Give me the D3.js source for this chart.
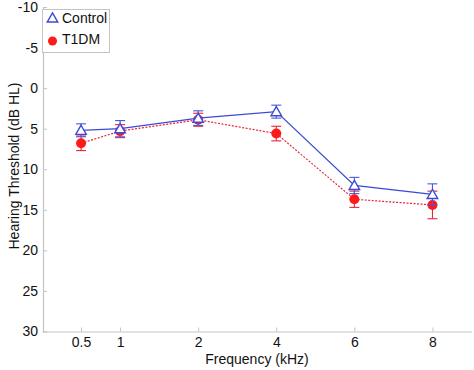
<!DOCTYPE html>
<html>
<head>
<meta charset="utf-8">
<script src="https://cdn.jsdelivr.net/npm/d3@7"></script>
<style>
  body { margin: 0; background: #fff; }
  text { font-family: "Liberation Sans", Arial, sans-serif; }
</style>
</head>
<body>
<div class="chart"></div>
<script>
// frequencies shown on the x axis and their slot positions
var freqLabels = ["0.5", "1", "2", "4", "6", "8"];
var freqPos = [0.5, 1, 2, 3, 4, 5];

// mean hearing thresholds (dB HL) and error bar half-widths
var controlMean = [5.2, 5.0, 3.7, 2.9, 12.0, 13.1];
var controlErr = [0.8, 1.0, 0.9, 0.8, 1.0, 1.3];
var t1dmMean = [6.8, 5.3, 3.9, 5.6, 13.7, 14.4];
var t1dmErr = [0.9, 0.8, 0.8, 0.9, 1.0, 1.7];

var yTicks = [-10, -5, 0, 5, 10, 15, 20, 25, 30];

var svgWidth = 474, svgHeight = 370;

var svg = d3.select(".chart")
  .append("svg")
  .attr("width", svgWidth)
  .attr("height", svgHeight);

var xScale = d3.scaleLinear()
  .domain([0, 5.5])
  .range([42, 471.5]);

var yScale = d3.scaleLinear()
  .domain([-10, 30])
  .range([7, 331.5]);

var axisColor = "#c4c4c4";

// axes
var xAxis = d3.axisBottom(xScale)
  .tickValues(freqPos)
  .tickFormat((d, i) => freqLabels[i])
  .tickSizeInner(-4)
  .tickSizeOuter(0)
  .tickPadding(6);

var yAxis = d3.axisLeft(yScale)
  .tickValues(yTicks)
  .tickFormat(d => String(d))
  .tickSizeInner(-4)
  .tickSizeOuter(0)
  .tickPadding(5);

var gx = svg.append("g")
  .attr("transform", `translate(0, ${yScale(30)})`)
  .call(xAxis);

var gy = svg.append("g")
  .attr("transform", `translate(${xScale(0) + 1}, 0)`)
  .call(yAxis);

[gx, gy].forEach(function(g) {
  g.select(".domain").attr("stroke", axisColor).attr("stroke-width", 1.2);
  g.selectAll(".tick line").attr("stroke", axisColor);
  g.selectAll(".tick text")
    .attr("fill", "#111")
    .style("font-size", "14px");
});

// axis labels
svg.append("text")
  .attr("x", 257)
  .attr("y", 364)
  .attr("text-anchor", "middle")
  .style("font-size", "14px")
  .attr("fill", "#111")
  .text("Frequency (kHz)");

svg.append("text")
  .attr("transform", "rotate(-90)")
  .attr("x", -166)
  .attr("y", 19)
  .attr("text-anchor", "middle")
  .style("font-size", "14px")
  .attr("fill", "#111")
  .text("Hearing Threshold (dB HL)");

var blue = "#3b4ad6";
var red = "#ff1a1a";
var redLine = "#e8243c";

var series = [
  { name: "Control", mean: controlMean, err: controlErr, color: blue, errColor: "#4a5ad8", dash: null, width: 1.3 },
  { name: "T1DM", mean: t1dmMean, err: t1dmErr, color: red, errColor: redLine, dash: "2,1.5", width: 1.2 }
];

var line = d3.line()
  .x((d, i) => xScale(freqPos[i]))
  .y(d => yScale(d));

var triSize = 48;

// draw T1DM first so control sits on top, like the reference
series.slice().reverse().forEach(function(s) {
  var g = svg.append("g");
  g.append("path")
    .datum(s.mean)
    .attr("d", line)
    .attr("fill", "none")
    .attr("stroke", s.name === "T1DM" ? redLine : s.color)
    .attr("stroke-width", s.width)
    .attr("stroke-dasharray", s.dash);

  var eb = g.selectAll(".eb")
    .data(s.mean)
    .enter()
    .append("g");
  eb.append("line")
    .attr("x1", (d, i) => xScale(freqPos[i]))
    .attr("x2", (d, i) => xScale(freqPos[i]))
    .attr("y1", (d, i) => yScale(d - s.err[i]))
    .attr("y2", (d, i) => yScale(d + s.err[i]))
    .attr("stroke", s.errColor)
    .attr("stroke-width", 1.1);
  [-1, 1].forEach(function(sign) {
    eb.append("line")
      .attr("x1", (d, i) => xScale(freqPos[i]) - 5)
      .attr("x2", (d, i) => xScale(freqPos[i]) + 5)
      .attr("y1", (d, i) => yScale(d + sign * s.err[i]))
      .attr("y2", (d, i) => yScale(d + sign * s.err[i]))
      .attr("stroke", s.errColor)
      .attr("stroke-width", 1.1);
  });

  if (s.name === "Control") {
    g.selectAll(".mk")
      .data(s.mean)
      .enter()
      .append("path")
      .attr("d", d3.symbol().type(d3.symbolTriangle).size(triSize))
      .attr("transform", (d, i) => `translate(${xScale(freqPos[i])}, ${yScale(d) + 1})`)
      .attr("fill", "#fff")
      .attr("stroke", s.color)
      .attr("stroke-width", 1.4);
  } else {
    g.selectAll(".mk")
      .data(s.mean)
      .enter()
      .append("circle")
      .attr("cx", (d, i) => xScale(freqPos[i]))
      .attr("cy", d => yScale(d))
      .attr("r", 5)
      .attr("fill", s.color);
  }
});

// legend
var legend = svg.append("g");
legend.append("rect")
  .attr("x", 42.5)
  .attr("y", 9.5)
  .attr("width", 67)
  .attr("height", 43)
  .attr("fill", "#fff")
  .attr("stroke", axisColor);

legend.append("path")
  .attr("d", d3.symbol().type(d3.symbolTriangle).size(triSize))
  .attr("transform", "translate(52.5, 19)")
  .attr("fill", "#fff")
  .attr("stroke", blue)
  .attr("stroke-width", 1.4);
legend.append("circle")
  .attr("cx", 52.5)
  .attr("cy", 41)
  .attr("r", 4.5)
  .attr("fill", red);

legend.selectAll(".lt")
  .data(series)
  .enter()
  .append("text")
  .attr("x", 62)
  .attr("y", (d, i) => 23 + i * 21)
  .style("font-size", "14px")
  .attr("fill", "#111")
  .text(d => d.name);
</script>
</body>
</html>
